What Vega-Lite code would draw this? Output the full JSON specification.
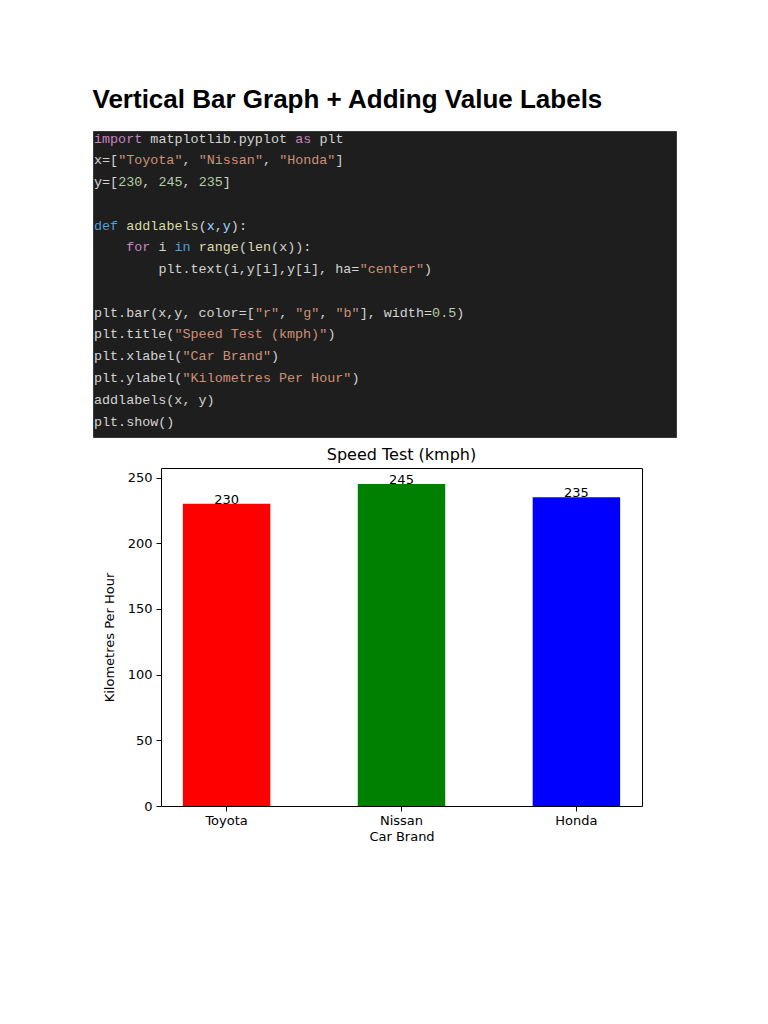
{
  "$schema": "https://vega.github.io/schema/vega-lite/v6.json",
  "background": "white",
  "padding": {"left": 92, "top": 86, "right": 0, "bottom": 0},
  "title": {
    "text": "Vertical Bar Graph + Adding Value Labels",
    "anchor": "start",
    "font": "Liberation Sans",
    "fontSize": 26,
    "fontWeight": "bold",
    "color": "black",
    "offset": 18
  },
  "resolve": {"scale": {"color": "independent"}},
  "datasets": {
    "code": [
      {"line": 0, "col": 0, "t": "import", "k": "kw"},
      {"line": 0, "col": 7, "t": "matplotlib.pyplot", "k": "plain"},
      {"line": 0, "col": 25, "t": "as", "k": "kw"},
      {"line": 0, "col": 28, "t": "plt", "k": "plain"},
      {"line": 1, "col": 0, "t": "x=[", "k": "plain"},
      {"line": 1, "col": 3, "t": "\"Toyota\"", "k": "str"},
      {"line": 1, "col": 11, "t": ",", "k": "plain"},
      {"line": 1, "col": 13, "t": "\"Nissan\"", "k": "str"},
      {"line": 1, "col": 21, "t": ",", "k": "plain"},
      {"line": 1, "col": 23, "t": "\"Honda\"", "k": "str"},
      {"line": 1, "col": 30, "t": "]", "k": "plain"},
      {"line": 2, "col": 0, "t": "y=[", "k": "plain"},
      {"line": 2, "col": 3, "t": "230", "k": "num"},
      {"line": 2, "col": 6, "t": ",", "k": "plain"},
      {"line": 2, "col": 8, "t": "245", "k": "num"},
      {"line": 2, "col": 11, "t": ",", "k": "plain"},
      {"line": 2, "col": 13, "t": "235", "k": "num"},
      {"line": 2, "col": 16, "t": "]", "k": "plain"},
      {"line": 4, "col": 0, "t": "def", "k": "ctl"},
      {"line": 4, "col": 4, "t": "addlabels", "k": "fn"},
      {"line": 4, "col": 13, "t": "(", "k": "plain"},
      {"line": 4, "col": 14, "t": "x", "k": "param"},
      {"line": 4, "col": 15, "t": ",", "k": "plain"},
      {"line": 4, "col": 16, "t": "y", "k": "param"},
      {"line": 4, "col": 17, "t": "):", "k": "plain"},
      {"line": 5, "col": 4, "t": "for", "k": "kw"},
      {"line": 5, "col": 8, "t": "i", "k": "plain"},
      {"line": 5, "col": 10, "t": "in", "k": "ctl"},
      {"line": 5, "col": 13, "t": "range", "k": "fn"},
      {"line": 5, "col": 18, "t": "(", "k": "plain"},
      {"line": 5, "col": 19, "t": "len", "k": "fn"},
      {"line": 5, "col": 22, "t": "(x)):", "k": "plain"},
      {"line": 6, "col": 8, "t": "plt.text(i,y[i],y[i], ha=", "k": "plain"},
      {"line": 6, "col": 33, "t": "\"center\"", "k": "str"},
      {"line": 6, "col": 41, "t": ")", "k": "plain"},
      {"line": 8, "col": 0, "t": "plt.bar(x,y, color=[", "k": "plain"},
      {"line": 8, "col": 20, "t": "\"r\"", "k": "str"},
      {"line": 8, "col": 23, "t": ",", "k": "plain"},
      {"line": 8, "col": 25, "t": "\"g\"", "k": "str"},
      {"line": 8, "col": 28, "t": ",", "k": "plain"},
      {"line": 8, "col": 30, "t": "\"b\"", "k": "str"},
      {"line": 8, "col": 33, "t": "], width=", "k": "plain"},
      {"line": 8, "col": 42, "t": "0.5", "k": "num"},
      {"line": 8, "col": 45, "t": ")", "k": "plain"},
      {"line": 9, "col": 0, "t": "plt.title(", "k": "plain"},
      {"line": 9, "col": 10, "t": "\"Speed Test (kmph)\"", "k": "str"},
      {"line": 9, "col": 29, "t": ")", "k": "plain"},
      {"line": 10, "col": 0, "t": "plt.xlabel(", "k": "plain"},
      {"line": 10, "col": 11, "t": "\"Car Brand\"", "k": "str"},
      {"line": 10, "col": 22, "t": ")", "k": "plain"},
      {"line": 11, "col": 0, "t": "plt.ylabel(", "k": "plain"},
      {"line": 11, "col": 11, "t": "\"Kilometres Per Hour\"", "k": "str"},
      {"line": 11, "col": 32, "t": ")", "k": "plain"},
      {"line": 12, "col": 0, "t": "addlabels(x, y)", "k": "plain"},
      {"line": 13, "col": 0, "t": "plt.show()", "k": "plain"}
    ],
    "speed": [
      {"brand": "Toyota", "kmph": 230},
      {"brand": "Nissan", "kmph": 245},
      {"brand": "Honda", "kmph": 235}
    ]
  },
  "spacing": 8,
  "vconcat": [
    {
      "width": 583,
      "height": 306,
      "view": {"fill": "#1e1e1e", "stroke": "#3a3a3a"},
      "data": {"name": "code"},
      "mark": {
        "type": "text",
        "align": "left",
        "baseline": "middle",
        "font": "Liberation Mono",
        "fontSize": 13.4
      },
      "encoding": {
        "x": {
          "field": "col",
          "type": "quantitative",
          "axis": null,
          "scale": {"domain": [0, 72], "range": [1, 580.6], "zero": false, "nice": false}
        },
        "y": {
          "field": "line",
          "type": "quantitative",
          "axis": null,
          "scale": {"domain": [0, 13], "range": [7.5, 290.5], "zero": false, "nice": false}
        },
        "text": {"field": "t"},
        "color": {
          "field": "k",
          "type": "nominal",
          "legend": null,
          "scale": {
            "domain": ["plain", "kw", "ctl", "str", "num", "fn", "param"],
            "range": ["#d4d4d4", "#c586c0", "#569cd6", "#ce9178", "#b5cea8", "#dcdcaa", "#9cdcfe"]
          }
        }
      }
    },
    {
      "spacing": 0,
      "resolve": {"scale": {"color": "independent"}},
      "hconcat": [
        {
          "width": 8,
          "height": 10,
          "view": {"stroke": "white"},
          "data": {"values": []},
          "mark": "rect"
        },
        {
          "width": 481,
          "height": 338,
          "view": {"stroke": "black", "strokeWidth": 1},
          "data": {"name": "speed"},
          "title": {
            "text": "Speed Test (kmph)",
            "font": "DejaVu Sans",
            "fontSize": 16,
            "fontWeight": "normal",
            "color": "black",
            "offset": 5
          },
          "encoding": {
            "x": {
              "field": "brand",
              "type": "nominal",
              "sort": null,
              "title": "Car Brand",
              "scale": {"paddingInner": 0.5, "paddingOuter": 0.125},
              "axis": {
                "labelAngle": 0,
                "domain": false,
                "tickSize": 5,
                "tickColor": "black",
                "labelPadding": 3,
                "titlePadding": 3
              }
            },
            "y": {
              "field": "kmph",
              "type": "quantitative",
              "title": "Kilometres Per Hour",
              "scale": {"domain": [0, 257.25], "nice": false},
              "axis": {
                "values": [0, 50, 100, 150, 200, 250],
                "grid": false,
                "domain": false,
                "tickSize": 5,
                "tickColor": "black",
                "labelPadding": 4,
                "titlePadding": 11
              }
            }
          },
          "layer": [
            {
              "mark": {"type": "bar"},
              "encoding": {
                "color": {
                  "field": "brand",
                  "type": "nominal",
                  "legend": null,
                  "scale": {"domain": ["Toyota", "Nissan", "Honda"], "range": ["#ff0000", "#008000", "#0000ff"]}
                }
              }
            },
            {
              "mark": {
                "type": "text",
                "baseline": "alphabetic",
                "align": "center",
                "font": "DejaVu Sans",
                "fontSize": 13,
                "color": "black"
              },
              "encoding": {"text": {"field": "kmph", "type": "quantitative"}}
            }
          ]
        }
      ]
    }
  ],
  "config": {
    "axis": {
      "labelFont": "DejaVu Sans",
      "labelFontSize": 13,
      "labelColor": "black",
      "titleFont": "DejaVu Sans",
      "titleFontSize": 13,
      "titleFontWeight": "normal",
      "titleColor": "black"
    }
  }
}
